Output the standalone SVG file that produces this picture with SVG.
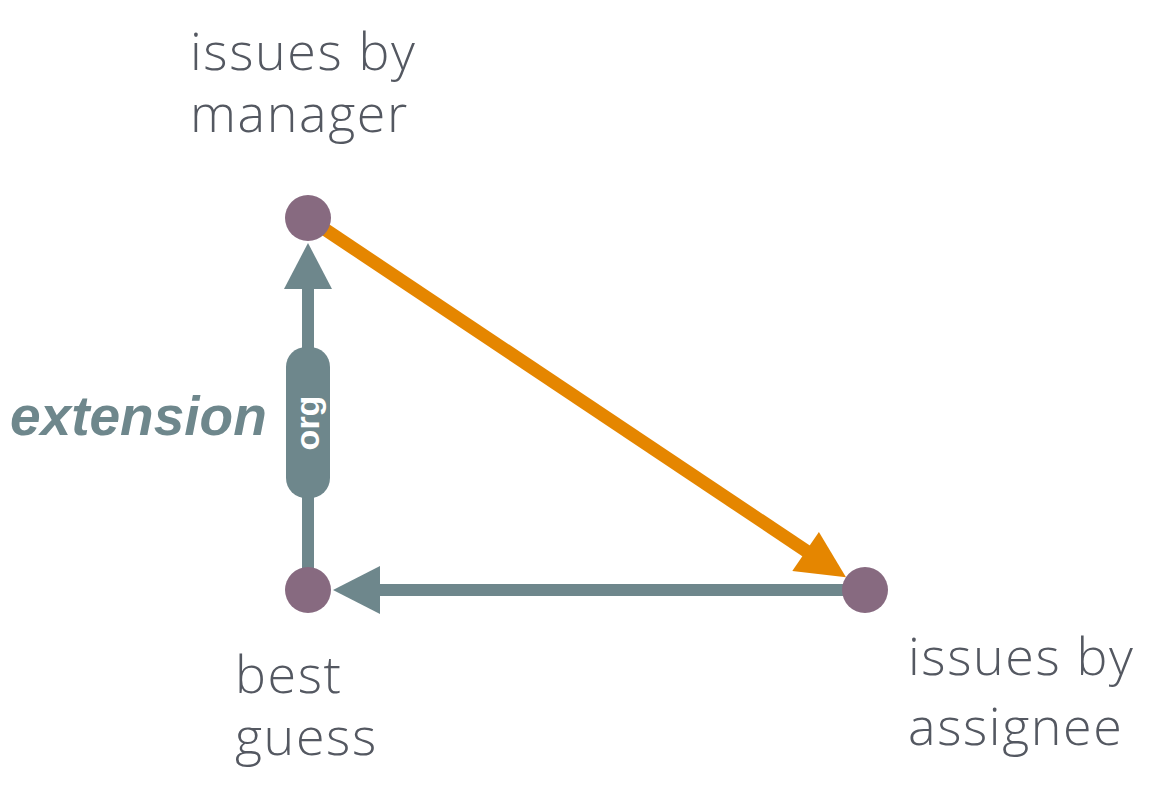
<svg xmlns="http://www.w3.org/2000/svg" width="1156" height="786" viewBox="0 0 1156 786">
<defs>
<style>
.lbl{font-family:"Open Sans","Lato","Liberation Sans",sans-serif;font-weight:300;font-size:52px;letter-spacing:1.6px;fill:#545861}
.node{fill:#876A80}
.gray{stroke:#6E878C;stroke-width:12;fill:none}
.org{stroke:#E58600;stroke-width:13;fill:none}
</style>
</defs>
<rect width="1156" height="786" fill="#FFFFFF"/>
<g id="connectors">
<line class="gray" x1="308" y1="570" x2="308" y2="285"/>
<polygon points="308,243 284,289 332,289" fill="#6E878C"/>
<line class="gray" x1="843" y1="590" x2="375" y2="590"/>
<polygon points="333,590 380,566 380,614" fill="#6E878C"/>
<line class="org" x1="308" y1="218" x2="810" y2="553.5"/>
<polygon points="846,577.2 792.3,571 818.9,531.9" fill="#E58600"/>
<g id="edge-label">
<rect x="286" y="347" width="44" height="151" rx="20" fill="#6E878C"/>
<text transform="translate(319,423) rotate(-90)" text-anchor="middle" font-family="Liberation Sans,sans-serif" font-weight="700" font-size="34" fill="#FFFFFF">org</text>
</g>
<text x="10" y="435" font-family="Liberation Sans,sans-serif" font-weight="700" font-style="italic" font-size="55" fill="#6E878C">extension</text>
</g>
<g id="manager">
<circle class="node" cx="308" cy="218" r="23"/>
<text class="lbl" x="190" y="70">issues by<tspan x="190" y="132">manager</tspan></text>
</g>
<g id="bestguess">
<circle class="node" cx="308" cy="590" r="23"/>
<text class="lbl" x="235" y="693">best<tspan x="235" y="755">guess</tspan></text>
</g>
<g id="assignee">
<circle class="node" cx="865" cy="590" r="23"/>
<text class="lbl" x="908" y="675">issues by<tspan x="908" y="745">assignee</tspan></text>
</g>
</svg>
